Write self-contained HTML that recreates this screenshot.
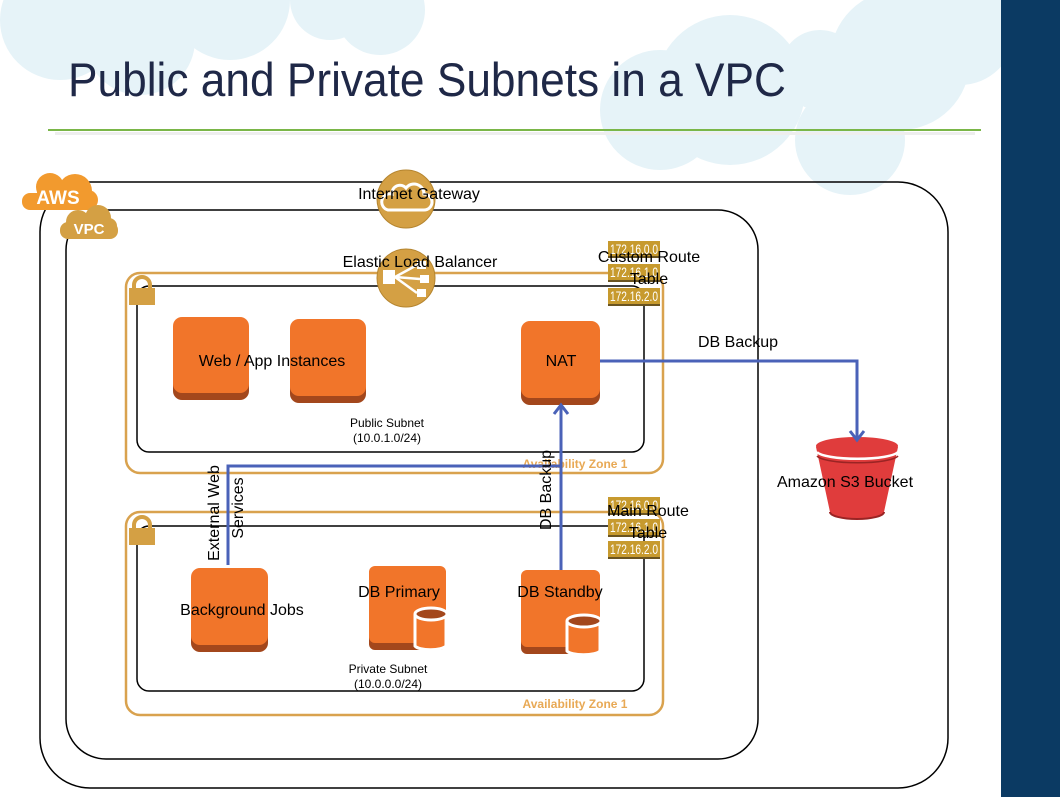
<!DOCTYPE html>
<html><head><meta charset="utf-8"><style>
html,body{margin:0;padding:0;background:#fff;}
svg{display:block;font-family:"Liberation Sans",Arial,sans-serif;}
</style></head><body>
<svg width="1060" height="797" viewBox="0 0 1060 797" xmlns="http://www.w3.org/2000/svg">
<!-- background clouds -->
<g fill="#e6f3f8">
<circle cx="60" cy="20" r="60"/><circle cx="140" cy="40" r="55"/><circle cx="230" cy="0" r="60"/>
<circle cx="380" cy="10" r="45"/><circle cx="330" cy="0" r="40"/>
<circle cx="660" cy="110" r="60"/><circle cx="730" cy="90" r="75"/><circle cx="850" cy="140" r="55"/>
<circle cx="900" cy="60" r="70"/><circle cx="960" cy="30" r="55"/><circle cx="820" cy="70" r="40"/>
</g>
<rect x="1001" y="0" width="59" height="797" fill="#0b3a63"/>
<text x="68" y="96" font-size="47" fill="#1f2847" textLength="718" lengthAdjust="spacingAndGlyphs">Public and Private Subnets in a VPC</text>
<rect x="48" y="129" width="933" height="2" fill="#7ab648"/>
<rect x="55" y="132" width="920" height="3" fill="#eee"/>

<!-- boxes -->
<rect x="40" y="182" width="908" height="606" rx="50" fill="none" stroke="#000" stroke-width="1.5"/>
<rect x="66" y="210" width="692" height="549" rx="40" fill="#fff" stroke="#000" stroke-width="1.5"/>
<rect x="126" y="273" width="537" height="200" rx="14" fill="none" stroke="#d9a24e" stroke-width="2.5"/>
<rect x="137" y="286" width="507" height="166" rx="12" fill="none" stroke="#000" stroke-width="1.5"/>
<rect x="126" y="512" width="537" height="203" rx="14" fill="none" stroke="#d9a24e" stroke-width="2.5"/>
<rect x="137" y="526" width="507" height="165" rx="12" fill="none" stroke="#000" stroke-width="1.5"/>
<text x="575" y="468" font-size="12" font-weight="bold" fill="#e8a955" text-anchor="middle">Availability Zone 1</text>
<text x="575" y="708" font-size="12" font-weight="bold" fill="#e8a955" text-anchor="middle">Availability Zone 1</text>

<!-- AWS / VPC clouds -->
<g fill="#f29a2e">
<circle cx="53" cy="194" r="16"/><circle cx="50" cy="187" r="14"/><circle cx="75" cy="191" r="17"/><circle cx="88" cy="200" r="10"/>
<rect x="22" y="193" width="75" height="17" rx="8"/>
</g>
<text x="58" y="204" font-size="19" font-weight="bold" fill="#fff" text-anchor="middle">AWS</text>
<g fill="#d4a044">
<circle cx="78" cy="222" r="12"/><circle cx="98" cy="218" r="13"/><circle cx="109" cy="226" r="8"/>
<rect x="60" y="222" width="58" height="17" rx="8"/>
</g>
<text x="89" y="234" font-size="15" font-weight="bold" fill="#fff" text-anchor="middle">VPC</text>

<!-- locks -->
<g fill="#d4a044">
<rect x="129" y="288" width="26" height="17"/><path d="M134 290 v-5 a8 8 0 0 1 16 0 v5" fill="none" stroke="#d4a044" stroke-width="4"/>
<rect x="129" y="528" width="26" height="17"/><path d="M134 530 v-5 a8 8 0 0 1 16 0 v5" fill="none" stroke="#d4a044" stroke-width="4"/>
</g>

<!-- gateway and ELB -->
<circle cx="406" cy="199" r="29" fill="#d4a044" stroke="#b5852f" stroke-width="1"/>
<path d="M388 210 h36 a8 8 0 0 0 0-16 a10 10 0 0 0-18-6 a8 8 0 0 0-14 6 a8 8 0 0 0-4 16z" fill="none" stroke="#fff" stroke-width="3"/>
<circle cx="406" cy="278" r="29" fill="#d4a044" stroke="#b5852f" stroke-width="1"/>
<g fill="#fff"><rect x="383" y="270" width="12" height="14"/><rect x="417" y="261" width="9" height="8"/><rect x="420" y="275" width="9" height="8"/><rect x="417" y="289" width="9" height="8"/></g>
<path d="M395 277 L417 265 M395 277 L420 279 M395 277 L417 293" stroke="#fff" stroke-width="2.5"/>

<!-- route tables -->
<g font-size="14" fill="#fff">
<rect x="608" y="241" width="52" height="16" fill="#c79a2e"/><rect x="608" y="256" width="52" height="2" fill="#6a5420"/>
<rect x="608" y="264" width="52" height="16" fill="#c79a2e"/><rect x="608" y="280" width="52" height="2" fill="#6a5420"/>
<rect x="608" y="288" width="52" height="16" fill="#c79a2e"/><rect x="608" y="304" width="52" height="2" fill="#6a5420"/>
<text x="634" y="254" text-anchor="middle" textLength="48" lengthAdjust="spacingAndGlyphs">172.16.0.0</text>
<text x="634" y="277" text-anchor="middle" textLength="48" lengthAdjust="spacingAndGlyphs">172.16.1.0</text>
<text x="634" y="301" text-anchor="middle" textLength="48" lengthAdjust="spacingAndGlyphs">172.16.2.0</text>
<rect x="608" y="497" width="52" height="16" fill="#c79a2e"/><rect x="608" y="513" width="52" height="2" fill="#6a5420"/>
<rect x="608" y="519" width="52" height="16" fill="#c79a2e"/><rect x="608" y="535" width="52" height="2" fill="#6a5420"/>
<rect x="608" y="541" width="52" height="16" fill="#c79a2e"/><rect x="608" y="557" width="52" height="2" fill="#6a5420"/>
<text x="634" y="510" text-anchor="middle" textLength="48" lengthAdjust="spacingAndGlyphs">172.16.0.0</text>
<text x="634" y="532" text-anchor="middle" textLength="48" lengthAdjust="spacingAndGlyphs">172.16.1.0</text>
<text x="634" y="554" text-anchor="middle" textLength="48" lengthAdjust="spacingAndGlyphs">172.16.2.0</text>
</g>

<!-- instances -->
<g>
<rect x="173" y="321" width="76" height="79" rx="9" fill="#a3471c"/><rect x="173" y="317" width="76" height="76" rx="9" fill="#f1752a"/>
<rect x="290" y="324" width="76" height="79" rx="9" fill="#a3471c"/><rect x="290" y="319" width="76" height="77" rx="9" fill="#f1752a"/>
<rect x="521" y="325" width="79" height="80" rx="9" fill="#a3471c"/><rect x="521" y="321" width="79" height="77" rx="9" fill="#f1752a"/>
<rect x="191" y="572" width="77" height="80" rx="9" fill="#a3471c"/><rect x="191" y="568" width="77" height="77" rx="9" fill="#f1752a"/>
<rect x="369" y="570" width="77" height="80" rx="6" fill="#a3471c"/><rect x="369" y="566" width="77" height="77" rx="6" fill="#f1752a"/>
<rect x="521" y="574" width="79" height="80" rx="6" fill="#a3471c"/><rect x="521" y="570" width="79" height="77" rx="6" fill="#f1752a"/>
</g>
<!-- db cylinders -->
<g>
<path d="M415 614 v32 a16 5 0 0 0 31 0 v-32" fill="#f1752a" stroke="#fff" stroke-width="3"/>
<ellipse cx="431" cy="614" rx="16" ry="6" fill="#a3471c" stroke="#fff" stroke-width="3"/>
<path d="M567 621 v30 a17 5 0 0 0 33 0 v-30" fill="#f1752a" stroke="#fff" stroke-width="3"/>
<ellipse cx="584" cy="621" rx="17" ry="6" fill="#a3471c" stroke="#fff" stroke-width="3"/>
</g>

<!-- S3 bucket -->
<path d="M816 447 L830 512 a27 7 0 0 0 54 0 L898 447z" fill="#e03c3c"/>
<path d="M830 512 a27 7 0 0 0 54 0" fill="none" stroke="#9a2424" stroke-width="2"/>
<ellipse cx="857" cy="446" rx="41" ry="9" fill="#e03c3c"/>
<path d="M817 452 a41 8 0 0 0 81 0" fill="none" stroke="#fff" stroke-width="2.5"/>
<path d="M817 456 a41 8 0 0 0 81 0" fill="none" stroke="#9a2424" stroke-width="1.5"/>

<!-- connectors -->
<g fill="none" stroke="#4a62b8" stroke-width="3">
<path d="M600 361 H857 V439"/>
<path d="M850 431 L857 440 L864 431"/>
<path d="M561 570 V405"/>
<path d="M554 414 L561 405 L568 414"/>
<path d="M228 565 V466 H561"/>
</g>

<!-- labels on top -->
<g font-size="16" fill="#000" text-anchor="middle">
<text x="419" y="199">Internet Gateway</text>
<text x="420" y="267">Elastic Load Balancer</text>
<text x="649" y="262">Custom Route</text><text x="649" y="284">Table</text>
<text x="648" y="516">Main Route</text><text x="648" y="538">Table</text>
<text x="272" y="366">Web / App Instances</text>
<text x="561" y="366">NAT</text>
<text x="242" y="615">Background Jobs</text>
<text x="399" y="597">DB Primary</text>
<text x="560" y="597">DB Standby</text>
<text x="845" y="487">Amazon  S3 Bucket</text>
<text x="738" y="347">DB Backup</text>
<text transform="translate(551 490) rotate(-90)">DB Backup</text>
<text transform="translate(219 513) rotate(-90)">External Web</text>
<text transform="translate(243 508) rotate(-90)">Services</text>
</g>
<g font-size="12" fill="#000" text-anchor="middle">
<text x="387" y="427">Public Subnet</text><text x="387" y="442">(10.0.1.0/24)</text>
<text x="388" y="673">Private  Subnet</text><text x="388" y="688">(10.0.0.0/24)</text>
</g>
</svg>
</body></html>
